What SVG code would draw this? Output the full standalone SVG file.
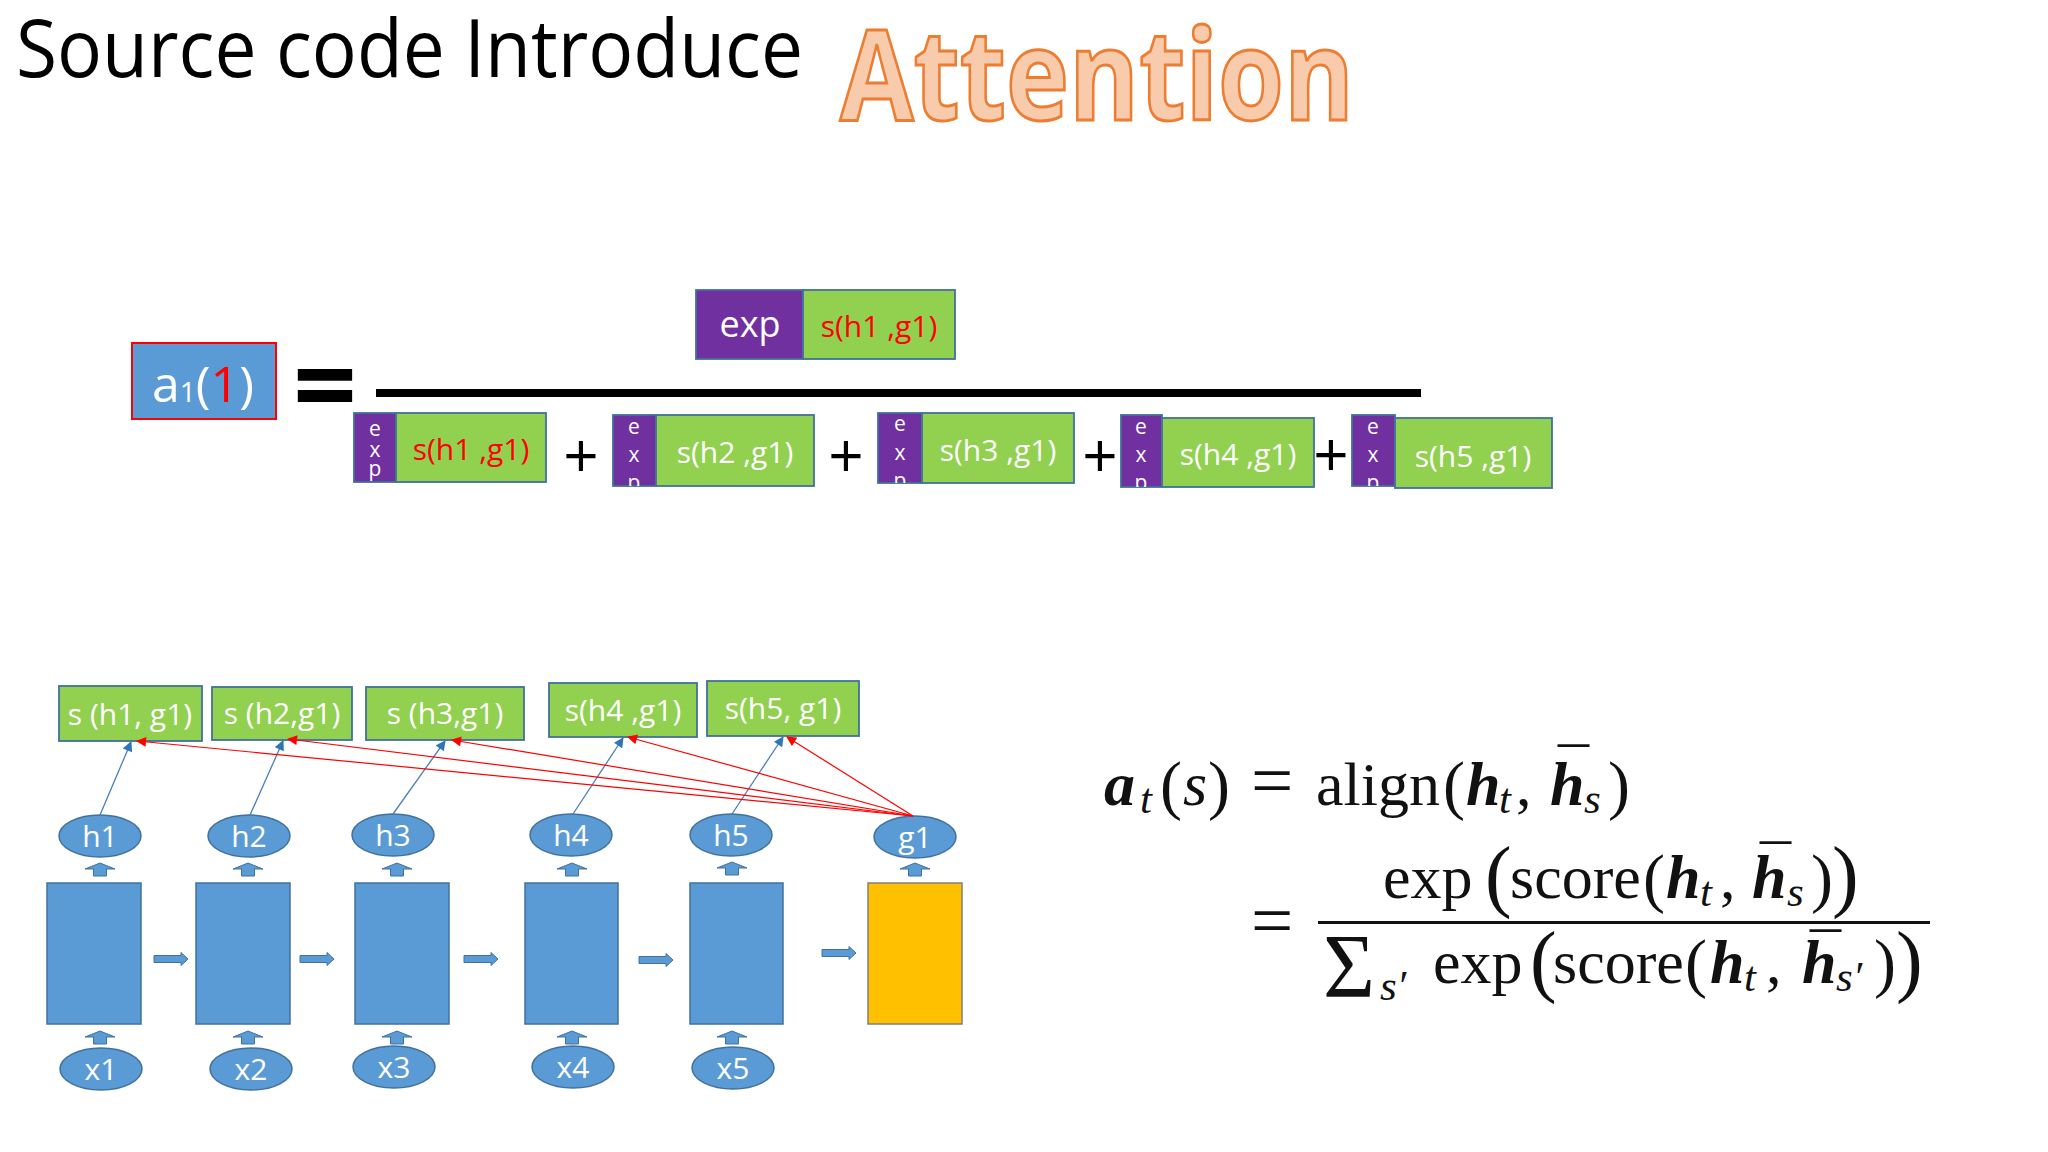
<svg xmlns="http://www.w3.org/2000/svg" width="2048" height="1152" viewBox="0 0 2048 1152">
<style>
.sans{font-family:"Open Sans","Noto Sans","Liberation Sans",sans-serif}
.w{fill:#fff}
.r{fill:#ff0000}
.blu{fill:#5B9BD5;stroke:#41719C;stroke-width:1.5}
.grn{fill:#92D050;stroke:#41719C;stroke-width:1.8}
.pur{fill:#7030A0;stroke:#41719C;stroke-width:1.8}
.bt{font-size:30px}
.ex{font-size:21px}
.pl{font-size:62px;fill:#000}
.math{font-family:"Liberation Serif","Times New Roman",serif;fill:#111}
.bi{font-weight:bold;font-style:italic}
.it{font-style:italic}
.lnb{stroke:#4A7EBB;stroke-width:1.3;fill:none}
.lnr{stroke:#FF0000;stroke-width:1.2;fill:none}
</style>
<defs>
<marker id="hb" viewBox="0 0 10 10" refX="9" refY="5" markerWidth="11" markerHeight="10" markerUnits="userSpaceOnUse" orient="auto"><path d="M0,0 L10,5 L0,10z" fill="#2E75B6"/></marker>
<marker id="hr" viewBox="0 0 10 10" refX="9" refY="5" markerWidth="11" markerHeight="10" markerUnits="userSpaceOnUse" orient="auto"><path d="M0,0 L10,5 L0,10z" fill="#FF0000"/></marker>
<path id="up" d="M0,0 L15,6 L6.5,6 L6.5,13 L-6.5,13 L-6.5,6 L-15,6Z" fill="#5B9BD5" stroke="#41719C" stroke-width="1"/>
<path id="rt" d="M0,-3.5 L27,-3.5 L27,-6.5 L34,0 L27,6.5 L27,3.5 L0,3.5Z" fill="#5B9BD5" stroke="#41719C" stroke-width="1"/>
<clipPath id="c2"><rect x="613" y="415" width="43" height="71"/></clipPath>
<clipPath id="c3"><rect x="878" y="413" width="44" height="70"/></clipPath>
<clipPath id="c4"><rect x="1121" y="415" width="41" height="72"/></clipPath>
<clipPath id="c5"><rect x="1352" y="415" width="43" height="71"/></clipPath>
</defs>
<rect width="2048" height="1152" fill="#fff"/>

<g id="title">
<text class="sans" x="16" y="77" font-size="80" fill="#000" textLength="787" lengthAdjust="spacingAndGlyphs">Source code Introduce</text>
</g>
<g id="attention">
<text class="sans" x="840" y="120" font-size="125" font-weight="bold" fill="#F8CBAD" stroke="#ED7D31" stroke-width="3" textLength="514" lengthAdjust="spacingAndGlyphs">Attention</text>
</g>

<g id="a1-box">
<rect x="132" y="343" width="144" height="76" fill="#5B9BD5" stroke="#FF0000" stroke-width="2"/>
<text class="sans w" x="152" y="402" font-size="50">a<tspan font-size="28">1</tspan>(<tspan class="r">1</tspan>)</text>
</g>
<g id="equals">
<text class="sans" x="325" y="425" font-size="112" font-weight="bold" text-anchor="middle" fill="#000">=</text>
</g>
<g id="fraction-bar">
<rect x="376" y="389" width="1045" height="8" fill="#000"/>
</g>

<g id="numerator">
<rect class="pur" x="696" y="290" width="107" height="69"/>
<rect class="grn" x="803" y="290" width="152" height="69"/>
<text class="sans w" x="750" y="337" font-size="36" text-anchor="middle">exp</text>
<text class="sans r bt" x="879" y="337" text-anchor="middle">s(h1 ,g1)</text>
</g>

<g id="den-term-1">
<rect class="pur" x="354" y="413" width="42" height="69"/>
<rect class="grn" x="396" y="413" width="150" height="69"/>
<text class="sans w ex" text-anchor="middle"><tspan x="375" y="436">e</tspan><tspan x="375" y="457">x</tspan><tspan x="375" y="476">p</tspan></text>
<text class="sans r bt" x="471" y="460" text-anchor="middle">s(h1 ,g1)</text>
</g>
<g id="plus-1"><text class="sans pl" x="581" y="478" text-anchor="middle">+</text></g>
<g id="den-term-2">
<rect class="pur" x="613" y="415" width="43" height="71"/>
<rect class="grn" x="656" y="415" width="158" height="71"/>
<text class="sans w ex" text-anchor="middle" clip-path="url(#c2)"><tspan x="634" y="434">e</tspan><tspan x="634" y="462">x</tspan><tspan x="634" y="490">p</tspan></text>
<text class="sans w bt" x="735" y="463" text-anchor="middle">s(h2 ,g1)</text>
</g>
<g id="plus-2"><text class="sans pl" x="846" y="478" text-anchor="middle">+</text></g>
<g id="den-term-3">
<rect class="pur" x="878" y="413" width="44" height="70"/>
<rect class="grn" x="922" y="413" width="152" height="70"/>
<text class="sans w ex" text-anchor="middle" clip-path="url(#c3)"><tspan x="900" y="431">e</tspan><tspan x="900" y="460">x</tspan><tspan x="900" y="488">p</tspan></text>
<text class="sans w bt" x="998" y="461" text-anchor="middle">s(h3 ,g1)</text>
</g>
<g id="plus-3"><text class="sans pl" x="1100" y="478" text-anchor="middle">+</text></g>
<g id="den-term-4">
<rect class="pur" x="1121" y="415" width="41" height="72"/>
<rect class="grn" x="1162" y="418" width="152" height="69"/>
<text class="sans w ex" text-anchor="middle" clip-path="url(#c4)"><tspan x="1141" y="434">e</tspan><tspan x="1141" y="462">x</tspan><tspan x="1141" y="490">p</tspan></text>
<text class="sans w bt" x="1238" y="465" text-anchor="middle">s(h4 ,g1)</text>
</g>
<g id="plus-4"><text class="sans pl" x="1331" y="477" text-anchor="middle">+</text></g>
<g id="den-term-5">
<rect class="pur" x="1352" y="415" width="43" height="71"/>
<rect class="grn" x="1395" y="418" width="157" height="70"/>
<text class="sans w ex" text-anchor="middle" clip-path="url(#c5)"><tspan x="1373" y="434">e</tspan><tspan x="1373" y="462">x</tspan><tspan x="1373" y="490">p</tspan></text>
<text class="sans w bt" x="1473" y="467" text-anchor="middle">s(h5 ,g1)</text>
</g>

<g id="score-1"><rect class="grn" x="59" y="686" width="143" height="55"/><text class="sans w bt" x="130" y="725" text-anchor="middle">s (h1, g1)</text></g>
<g id="score-2"><rect class="grn" x="212" y="687" width="140" height="53"/><text class="sans w bt" x="282" y="724" text-anchor="middle">s (h2,g1)</text></g>
<g id="score-3"><rect class="grn" x="366" y="687" width="158" height="53"/><text class="sans w bt" x="445" y="724" text-anchor="middle">s (h3,g1)</text></g>
<g id="score-4"><rect class="grn" x="549" y="683" width="148" height="54"/><text class="sans w bt" x="623" y="721" text-anchor="middle">s(h4 ,g1)</text></g>
<g id="score-5"><rect class="grn" x="707" y="681" width="152" height="55"/><text class="sans w bt" x="783" y="719" text-anchor="middle">s(h5, g1)</text></g>

<g id="h1"><ellipse class="blu" cx="100" cy="836" rx="41" ry="21"/><text class="sans w bt" x="100" y="847" text-anchor="middle">h1</text></g>
<g id="h2"><ellipse class="blu" cx="249" cy="836" rx="41" ry="21"/><text class="sans w bt" x="249" y="847" text-anchor="middle">h2</text></g>
<g id="h3"><ellipse class="blu" cx="393" cy="835" rx="41" ry="21"/><text class="sans w bt" x="393" y="846" text-anchor="middle">h3</text></g>
<g id="h4"><ellipse class="blu" cx="571" cy="835" rx="41" ry="21"/><text class="sans w bt" x="571" y="846" text-anchor="middle">h4</text></g>
<g id="h5"><ellipse class="blu" cx="731" cy="835" rx="41" ry="21"/><text class="sans w bt" x="731" y="846" text-anchor="middle">h5</text></g>
<g id="g1"><ellipse class="blu" cx="915" cy="837" rx="41" ry="21"/><text class="sans w bt" x="915" y="848" text-anchor="middle">g1</text></g>

<g id="rnn-1"><rect class="blu" x="47" y="883" width="94" height="141"/></g>
<g id="rnn-2"><rect class="blu" x="196" y="883" width="94" height="141"/></g>
<g id="rnn-3"><rect class="blu" x="355" y="883" width="94" height="141"/></g>
<g id="rnn-4"><rect class="blu" x="525" y="883" width="93" height="141"/></g>
<g id="rnn-5"><rect class="blu" x="690" y="883" width="93" height="141"/></g>
<g id="decoder"><rect x="868" y="883" width="94" height="141" fill="#FFC000" stroke="#7F7F7F" stroke-width="1.5"/></g>

<g id="x1"><ellipse class="blu" cx="101" cy="1069" rx="41" ry="21"/><text class="sans w bt" x="101" y="1080" text-anchor="middle">x1</text></g>
<g id="x2"><ellipse class="blu" cx="251" cy="1069" rx="41" ry="21"/><text class="sans w bt" x="251" y="1080" text-anchor="middle">x2</text></g>
<g id="x3"><ellipse class="blu" cx="394" cy="1067" rx="41" ry="21"/><text class="sans w bt" x="394" y="1078" text-anchor="middle">x3</text></g>
<g id="x4"><ellipse class="blu" cx="573" cy="1067" rx="41" ry="21"/><text class="sans w bt" x="573" y="1078" text-anchor="middle">x4</text></g>
<g id="x5"><ellipse class="blu" cx="733" cy="1068" rx="41" ry="21"/><text class="sans w bt" x="733" y="1079" text-anchor="middle">x5</text></g>

<g id="connectors">
<use href="#up" x="100" y="863"/><use href="#up" x="248" y="863"/><use href="#up" x="397" y="863"/><use href="#up" x="572" y="863"/><use href="#up" x="732" y="862"/><use href="#up" x="915" y="863"/>
<use href="#up" x="100" y="1031"/><use href="#up" x="248" y="1031"/><use href="#up" x="397" y="1031"/><use href="#up" x="572" y="1031"/><use href="#up" x="732" y="1031"/>
<use href="#rt" x="154" y="959"/><use href="#rt" x="300" y="959"/><use href="#rt" x="464" y="959"/><use href="#rt" x="639" y="960"/><use href="#rt" x="822" y="953"/>
<line class="lnb" x1="100" y1="815" x2="131" y2="742" marker-end="url(#hb)"/>
<line class="lnb" x1="250" y1="815" x2="283" y2="741" marker-end="url(#hb)"/>
<line class="lnb" x1="393" y1="814" x2="445" y2="741" marker-end="url(#hb)"/>
<line class="lnb" x1="573" y1="814" x2="623" y2="738" marker-end="url(#hb)"/>
<line class="lnb" x1="732" y1="814" x2="783" y2="737" marker-end="url(#hb)"/>
<line class="lnr" x1="913" y1="816" x2="137" y2="741" marker-end="url(#hr)"/>
<line class="lnr" x1="913" y1="816" x2="288" y2="739" marker-end="url(#hr)"/>
<line class="lnr" x1="913" y1="816" x2="452" y2="740" marker-end="url(#hr)"/>
<line class="lnr" x1="913" y1="816" x2="628" y2="737" marker-end="url(#hr)"/>
<line class="lnr" x1="913" y1="816" x2="787" y2="737" marker-end="url(#hr)"/>
</g>

<g id="formula" class="math" font-size="62">
<text y="805"><tspan class="bi" x="1104">a</tspan><tspan class="it" x="1140" y="813" font-size="43">t</tspan><tspan x="1160" y="807" font-size="66">(</tspan><tspan class="it" x="1183" y="805">s</tspan><tspan x="1208" y="807" font-size="66">)</tspan><tspan x="1251" y="805" font-size="75">=</tspan><tspan x="1316" y="805">align</tspan><tspan x="1443" y="807" font-size="66">(</tspan><tspan class="bi" x="1466" y="805">h</tspan><tspan class="it" x="1499" y="813" font-size="43">t</tspan><tspan x="1516" y="805">,</tspan><tspan class="bi" x="1550" y="805">h</tspan><tspan x="1558" y="791">¯</tspan><tspan class="it" x="1584" y="813" font-size="43">s</tspan><tspan x="1608" y="807" font-size="66">)</tspan></text>
<text x="1251" y="945" font-size="75">=</text>
<text y="898"><tspan x="1383">exp</tspan><tspan x="1485" y="902" font-size="80">(</tspan><tspan x="1510" y="898">score</tspan><tspan x="1643" y="900" font-size="66">(</tspan><tspan class="bi" x="1666" y="898">h</tspan><tspan class="it" x="1700" y="906" font-size="43">t</tspan><tspan x="1720" y="898">,</tspan><tspan class="bi" x="1752" y="898">h</tspan><tspan x="1760" y="888">¯</tspan><tspan class="it" x="1787" y="906" font-size="43">s</tspan><tspan x="1811" y="900" font-size="66">)</tspan><tspan x="1832" y="902" font-size="80">)</tspan></text>
<rect x="1318" y="921" width="612" height="3" fill="#111"/>
<text x="1323" y="997" font-size="92" textLength="52" lengthAdjust="spacingAndGlyphs">Σ</text>
<text y="983"><tspan class="it" x="1380" y="1000" font-size="43">s′</tspan><tspan x="1433" y="983">exp</tspan><tspan x="1530" y="987" font-size="80">(</tspan><tspan x="1553" y="983">score</tspan><tspan x="1685" y="985" font-size="66">(</tspan><tspan class="bi" x="1710" y="983">h</tspan><tspan class="it" x="1744" y="991" font-size="43">t</tspan><tspan x="1766" y="983">,</tspan><tspan class="bi" x="1802" y="983">h</tspan><tspan x="1810" y="976">¯</tspan><tspan class="it" x="1836" y="991" font-size="43">s′</tspan><tspan x="1874" y="985" font-size="66">)</tspan><tspan x="1896" y="987" font-size="80">)</tspan></text>
</g>
</svg>
